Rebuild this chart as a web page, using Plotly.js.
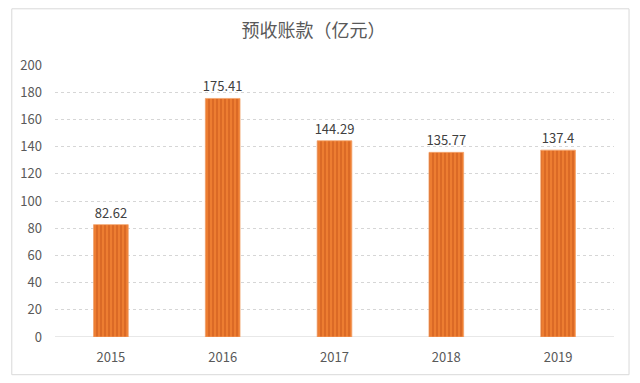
<!DOCTYPE html>
<html>
<head>
<meta charset="utf-8">
<script src="https://cdn.plot.ly/plotly-3.0.1.min.js"></script>
<style>html,body{margin:0;padding:0;background:#ffffff;}#chart{width:640px;height:383px;}</style>
</head>
<body>
<div id="chart"></div>
<script>
const years = ['2015', '2016', '2017', '2018', '2019'];
const values = [82.62, 175.41, 144.29, 135.77, 137.4];
const labels = ['82.62', '175.41', '144.29', '135.77', '137.4'];
const yTicks = [0, 20, 40, 60, 80, 100, 120, 140, 160, 180, 200];

const font = '"Noto Sans CJK SC", "Open Sans", sans-serif';

const trace = {
  type: 'bar',
  x: years,
  y: values,
  text: labels,
  textposition: 'outside',
  constraintext: 'none',
  cliponaxis: false,
  textfont: {family: font, size: 13, color: '#404040'},
  width: 0.31,
  marker: {
    color: '#ED7D31',
    line: {color: '#F4A36B', width: 0.8},
    pattern: {shape: '|', fgcolor: '#C9571A', bgcolor: '#ED7D31', size: 4, solidity: 0.25}
  },
  hoverinfo: 'none'
};

const layout = {
  width: 640, height: 383,
  margin: {l: 54.5, r: 25.5, t: 65, b: 46},
  paper_bgcolor: '#ffffff',
  plot_bgcolor: 'rgba(0,0,0,0)',
  showlegend: false,
  title: {text: '预收账款（亿元）', font: {family: font, size: 18, color: '#595959'}, x: 0.49, xref: 'container', y: 0.92, yref: 'container', yanchor: 'middle'},
  xaxis: {
    type: 'category',
    tickfont: {family: font, size: 13, color: '#595959'},
    showgrid: false, zeroline: false, showline: false, ticks: '',
    ticklabelstandoff: 11
  },
  yaxis: {
    range: [0, 200],
    tickvals: yTicks,
    tickfont: {family: font, size: 13, color: '#595959'},
    showgrid: true, gridcolor: '#D6D6D6', griddash: 'dot', gridwidth: 1,
    zeroline: false, showline: false, ticks: '',
    ticklabelstandoff: 12
  },
  shapes: [
    {type: 'line', xref: 'paper', yref: 'y', x0: 0, x1: 1, y0: 0, y1: 0, line: {color: '#D0D0D0', width: 1}, layer: 'below'},
    {type: 'rect', xref: 'paper', yref: 'paper', x0: -0.0773, x1: 1.0269, y0: -0.1386, y1: 1.2066, line: {color: '#D9D9D9', width: 1}, fillcolor: 'rgba(0,0,0,0)', layer: 'below'}
  ]
};

Plotly.newPlot('chart', [trace], layout, {displayModeBar: false, staticPlot: true});
</script>
</body>
</html>
